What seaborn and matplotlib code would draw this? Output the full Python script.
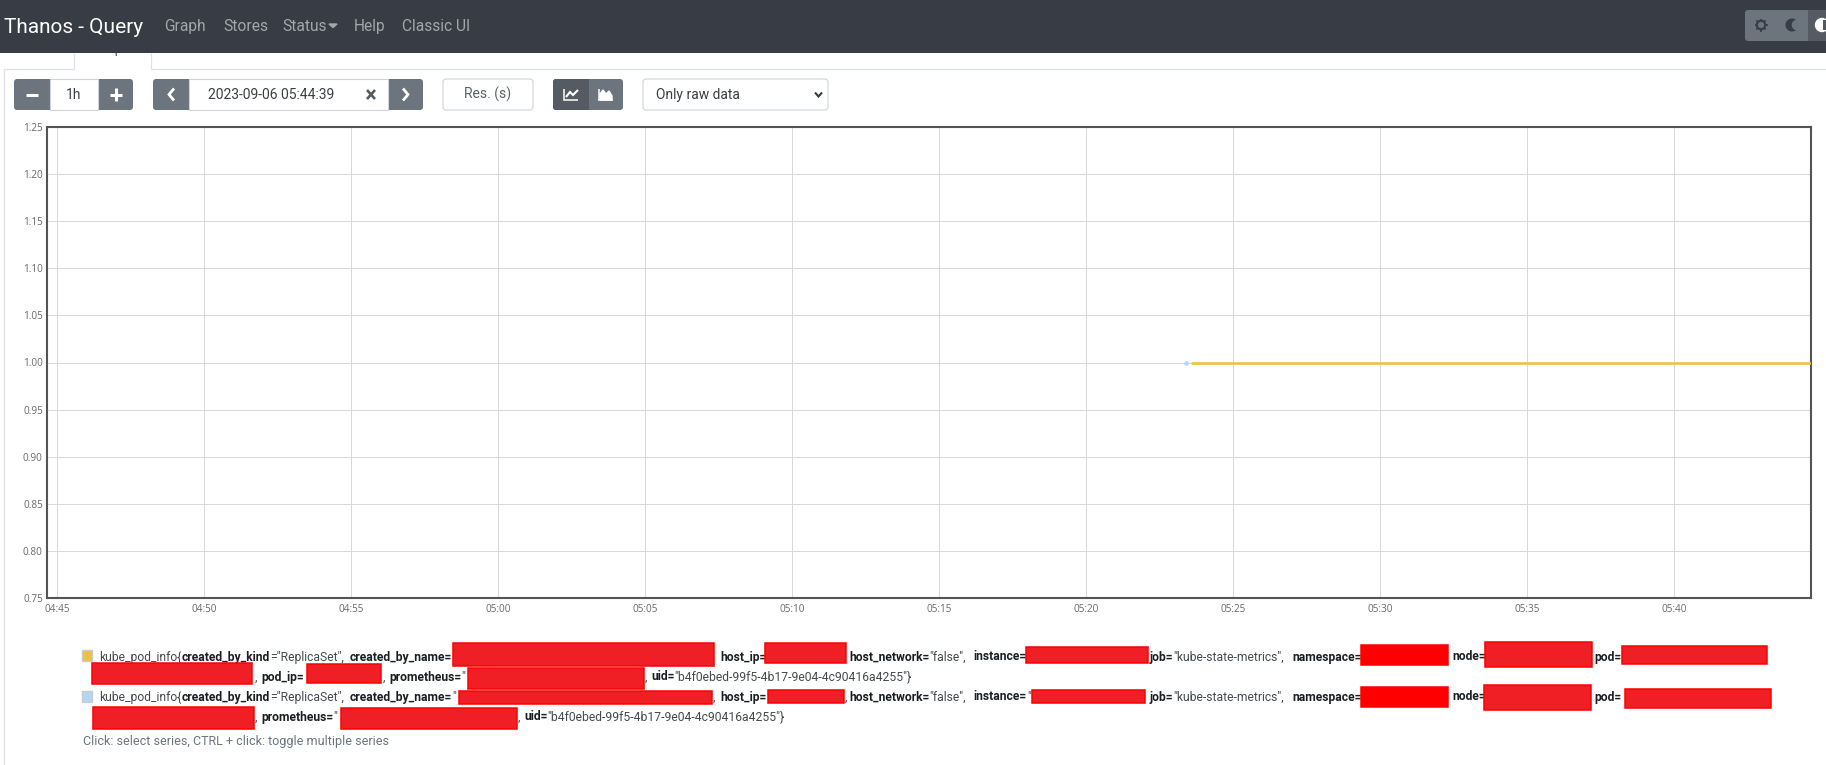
import numpy as np
import pandas as pd
import matplotlib
matplotlib.use('Agg')
import matplotlib.pyplot as plt
import matplotlib.dates as mdates
from matplotlib.patches import Rectangle, FancyBboxPatch, Circle
import seaborn as sns

# Series
yellow_times = ['05:23:36', '05:28:00', '05:33:00', '05:38:00', '05:44:39']
yellow_values = [1.0, 1.0, 1.0, 1.0, 1.0]
blue_times = ['05:23:23']
blue_values = [1.0]

y_ticks = [0.75, 0.80, 0.85, 0.90, 0.95, 1.00, 1.05, 1.10, 1.15, 1.20, 1.25]
day = '2023-09-06 '
x_start = '04:44:39'
x_end = '05:44:39'

nav_links = ['Graph', 'Stores', 'Status', 'Help', 'Classic UI']
UID = '"b4f0ebed-99f5-4b17-9e04-4c90416a4255"}'

W, H = 1826, 765
NAV = '#373c45'
GRAY = '#6c757d'
DARK = '#545b62'
REDACT = '#f01f26'
TEXT = '#3a3f45'

sns.set_theme(style='whitegrid')
plt.rcParams['font.family'] = ['Roboto', 'DejaVu Sans']

fig = plt.figure(figsize=(W / 100, H / 100), dpi=100, facecolor='white')

# graph area, in pixels of the screenshot
ax = fig.add_axes([47 / W, 1 - 598 / H, (1811 - 47) / W, (598 - 127) / H])

yellow = pd.DataFrame({'time': pd.to_datetime([day + t for t in yellow_times]), 'value': yellow_values})
blue = pd.DataFrame({'time': pd.to_datetime([day + t for t in blue_times]), 'value': blue_values})

sns.lineplot(data=yellow, x='time', y='value', color='#edc240', linewidth=1.9, ax=ax, zorder=3)
sns.scatterplot(data=blue, x='time', y='value', color='#afd8f8', s=11, linewidth=0, ax=ax, zorder=3)

ax.set_xlim(pd.Timestamp(day + x_start), pd.Timestamp(day + x_end))
ax.set_ylim(0.75, 1.25)
ax.set_yticks(y_ticks)
ax.set_yticklabels(['%.2f' % v for v in y_ticks])
ax.xaxis.set_major_locator(mdates.MinuteLocator(byminute=range(0, 60, 5)))
ax.xaxis.set_major_formatter(mdates.DateFormatter('%H:%M'))
ax.set_xlabel('')
ax.set_ylabel('')
ax.grid(True, color='#d9d9d9', linewidth=0.72)
ax.tick_params(axis='both', length=0, labelsize=7.2, labelcolor='#6a6a6a')
ax.tick_params(axis='x', pad=4.5)
ax.tick_params(axis='y', pad=3)
for lab in ax.get_xticklabels() + ax.get_yticklabels():
    lab.set_family(['Open Sans', 'DejaVu Sans'])
for s in ax.spines.values():
    s.set_color('#545454')
    s.set_linewidth(1.5)

# page chrome drawn on a full-figure axes in pixel coordinates
ui = fig.add_axes([0, 0, 1, 1], zorder=-1)
ui.set_xlim(0, W)
ui.set_ylim(H, 0)
ui.axis('off')


def box(a, x0, y0, x1, y1, color, edge='none', z=2, lw=1.0):
    a.add_patch(Rectangle((x0, y0), x1 - x0, y1 - y0, facecolor=color, edgecolor=edge, linewidth=lw, zorder=z))


def rbox(a, x0, y0, x1, y1, color, edge='none', z=2, lw=0.8, r=3):
    a.add_patch(FancyBboxPatch((x0 + r, y0 + r), x1 - x0 - 2 * r, y1 - y0 - 2 * r,
                               boxstyle='round,pad=%d' % r, facecolor=color, edgecolor=edge, linewidth=lw, zorder=z))


def seg(a, pts, color='white', lw=1.6, z=4):
    a.plot([p[0] for p in pts], [p[1] for p in pts], color=color, linewidth=lw, zorder=z,
           solid_capstyle='butt', solid_joinstyle='miter')


# tabs, cut off by the navbar
ui.text(23, 49.5, 'Table', color='#1a73d0', fontsize=9.5, va='center', zorder=1)
ui.text(94, 49.5, 'Graph', color='#495057', fontsize=9.5, va='center', zorder=1)
box(ui, 0, 0, W, 53, NAV, z=3)
seg(ui, [(3.5, 68.5), (73.5, 68.5)], '#dee2e6', 0.9, z=2)
seg(ui, [(150.5, 68.5), (W, 68.5)], '#dee2e6', 0.9, z=2)
seg(ui, [(73.5, 53), (73.5, 68.5)], '#dee2e6', 0.9, z=2)
seg(ui, [(150.5, 53), (150.5, 68.5)], '#dee2e6', 0.9, z=2)
seg(ui, [(3.5, 68.5), (3.5, H)], '#dee2e6', 0.9, z=2)

# navbar
ui.text(4, 27, 'Thanos - Query', color='white', fontsize=15, va='center', zorder=4)
for name, x in zip(nav_links, [164, 223, 282, 354, 402]):
    ui.text(x, 26, name, color='#a3a6aa', fontsize=11.2, va='center', zorder=4)
ui.fill([329, 337, 333], [24, 24, 27.5], color='#a3a6aa', zorder=4)

# theme switch, top right
rbox(ui, 1745, 10, 1815, 41, GRAY, z=4)
box(ui, 1807.5, 10, W, 41, DARK, z=4)
ui.add_patch(Circle((1761, 25), 4.2, facecolor='none', edgecolor=NAV, linewidth=1.5, zorder=5))
for dx, dy in [(6.5, 0), (-6.5, 0), (0, 6.5), (0, -6.5), (4.6, 4.6), (-4.6, 4.6), (4.6, -4.6), (-4.6, -4.6)]:
    seg(ui, [(1761 + dx * 0.65, 25 + dy * 0.65), (1761 + dx, 25 + dy)], NAV, 1.2, z=5)
# crescent moon: outer arc one way, inner arc back
outer = np.radians(np.linspace(55, 305, 40))
inner = np.radians(np.linspace(262, 98, 30))
ui.fill(np.r_[1792 + 6.5 * np.cos(outer), 1797 + 5.3 * np.cos(inner)],
        np.r_[25 + 6.5 * np.sin(outer), 25 + 5.3 * np.sin(inner)], color=NAV, linewidth=0, zorder=5)
ui.add_patch(Circle((1822, 25), 6.5, facecolor='white', zorder=5))
box(ui, 1823, 20, W, 30, DARK, z=6)

# controls row
Y0, Y1 = 79, 110
YC = (Y0 + Y1) / 2
rbox(ui, 14, Y0, 133, Y1, GRAY)
box(ui, 50, Y0, 98, Y1, 'white', edge='#ced4da', z=3, lw=0.8)
ui.text(73.5, YC, '1h', color=TEXT, fontsize=10, ha='center', va='center', zorder=4)
seg(ui, [(25.5, YC), (38, YC)], lw=2.2)
seg(ui, [(109.5, YC), (122, YC)], lw=2.2)
seg(ui, [(115.7, YC - 6.5), (115.7, YC + 6.5)], lw=2.2)

rbox(ui, 153, Y0, 423, Y1, GRAY)
box(ui, 189, Y0, 388, Y1, 'white', edge='#ced4da', z=3, lw=0.8)
ui.text(271.5, YC, '2023-09-06 05:44:39', color=TEXT, fontsize=10, ha='center', va='center', zorder=4)
seg(ui, [(174, YC - 6), (169, YC), (174, YC + 6)], lw=2)
seg(ui, [(403, YC - 6), (408, YC), (403, YC + 6)], lw=2)
seg(ui, [(367, YC - 4.5), (375, YC + 4.5)], '#555b61', 1.9)
seg(ui, [(375, YC - 4.5), (367, YC + 4.5)], '#555b61', 1.9)

rbox(ui, 443, Y0, 533, Y1, 'white', edge='#ced4da')
ui.text(488, YC, 'Res. (s)', color='#5a6268', fontsize=10, ha='center', va='center', zorder=4)

rbox(ui, 553, Y0, 623, Y1, GRAY)
rbox(ui, 553, Y0, 592, Y1, DARK, z=3)
box(ui, 589, Y0, 594, Y1, GRAY, z=3)
seg(ui, [(564, 89), (564, 100), (578, 100)], lw=1.1)
seg(ui, [(566, 97), (570, 92), (573, 95), (578, 90)], lw=1.5)
ui.fill([600, 600, 603, 606, 609, 612, 612], [100, 94, 90, 94, 91, 96, 100], color='white', zorder=4)
seg(ui, [(598, 100), (613, 100)], lw=1.1)
seg(ui, [(598.5, 89), (598.5, 100)], lw=1.1)

rbox(ui, 643, Y0, 828, Y1, 'white', edge='#ced4da')
ui.text(656, YC, 'Only raw data', color=TEXT, fontsize=10, va='center', zorder=4)
seg(ui, [(815, YC - 2), (818.5, YC + 2), (822, YC - 2)], '#343a40', 1.5)

# legend rows: (y, [(start x, [(text, bold), ...]), ...])
rows = [
    (657, [
        (99, [('kube_pod_info{', False)]),
        (182, [('created_by_kind', True), ('="ReplicaSet",', False)]),
        (350, [('created_by_name=', True)]),
        (720, [('host_ip=', True)]),
        (849, [('host_network=', True), ('"false",', False)]),
        (973.5, [('instance=', True)]),
        (1150, [('job=', True), ('"kube-state-metrics",', False)]),
        (1292, [('namespace=', True)]),
        (1452, [('node=', True)]),
        (1594, [('pod=', True)]),
    ]),
    (677, [
        (255, [(',', False)]),
        (261, [('pod_ip=', True)]),
        (383, [(',', False)]),
        (389, [('prometheus=', True), ('"', False)]),
        (645, [(',', False)]),
        (651, [('uid=', True), (UID, False)]),
    ]),
    (697, [
        (99, [('kube_pod_info{', False)]),
        (182, [('created_by_kind', True), ('="ReplicaSet",', False)]),
        (350, [('created_by_name=', True), ('"', False)]),
        (713, [(',', False)]),
        (720, [('host_ip=', True)]),
        (845, [(',', False)]),
        (849, [('host_network=', True), ('"false",', False)]),
        (973.5, [('instance=', True), ('"', False)]),
        (1150, [('job=', True), ('"kube-state-metrics",', False)]),
        (1292, [('namespace=', True)]),
        (1452, [('node=', True)]),
        (1594, [('pod=', True)]),
    ]),
    (717, [
        (255, [(',', False)]),
        (261, [('prometheus=', True), ('"', False)]),
        (518, [(',', False)]),
        (524, [('uid=', True), (UID, False)]),
    ]),
]

renderer = fig.canvas.get_renderer()
for y, groups in rows:
    for x, parts in groups:
        for txt, bold in parts:
            t = ui.text(x, y, txt, color='#1b1f23' if bold else '#454a50', fontsize=8.7,
                        fontweight='bold' if bold else 'normal', va='center', zorder=4)
            x += t.get_window_extent(renderer).width

ui.text(83, 741, 'Click: select series, CTRL + click: toggle multiple series', color='#6c757d',
        fontsize=9, va='center', zorder=4)

# legend swatches
box(ui, 82, 650, 92, 661, '#edc240', edge='#cccccc')
box(ui, 82, 691, 92, 702, '#afd8f8', edge='#cccccc')

# redaction boxes over the labels
redactions = [
    (453, 643, 714, 666), (765, 643, 846, 663), (1026, 647, 1148, 663), (1361, 645, 1448, 665),
    (1485, 642, 1592, 667), (1622, 646, 1767, 664),
    (92, 663, 252, 684), (307, 664, 381, 683), (468, 668, 644, 689),
    (459, 691, 712, 704), (768, 690, 844, 703), (1032, 690, 1145, 703), (1361, 687, 1448, 707),
    (1484, 685, 1591, 710), (1625, 689, 1771, 708),
    (93, 707, 254, 729), (341, 708, 517, 729),
]
for i, (x0, y0, x1, y1) in enumerate(redactions):
    solid = i in (3, 12)
    box(ui, x0, y0, x1, y1, '#ff0000' if solid else REDACT, edge='#ff0000', z=5, lw=1.1)

fig.savefig('out.png', dpi=100)
